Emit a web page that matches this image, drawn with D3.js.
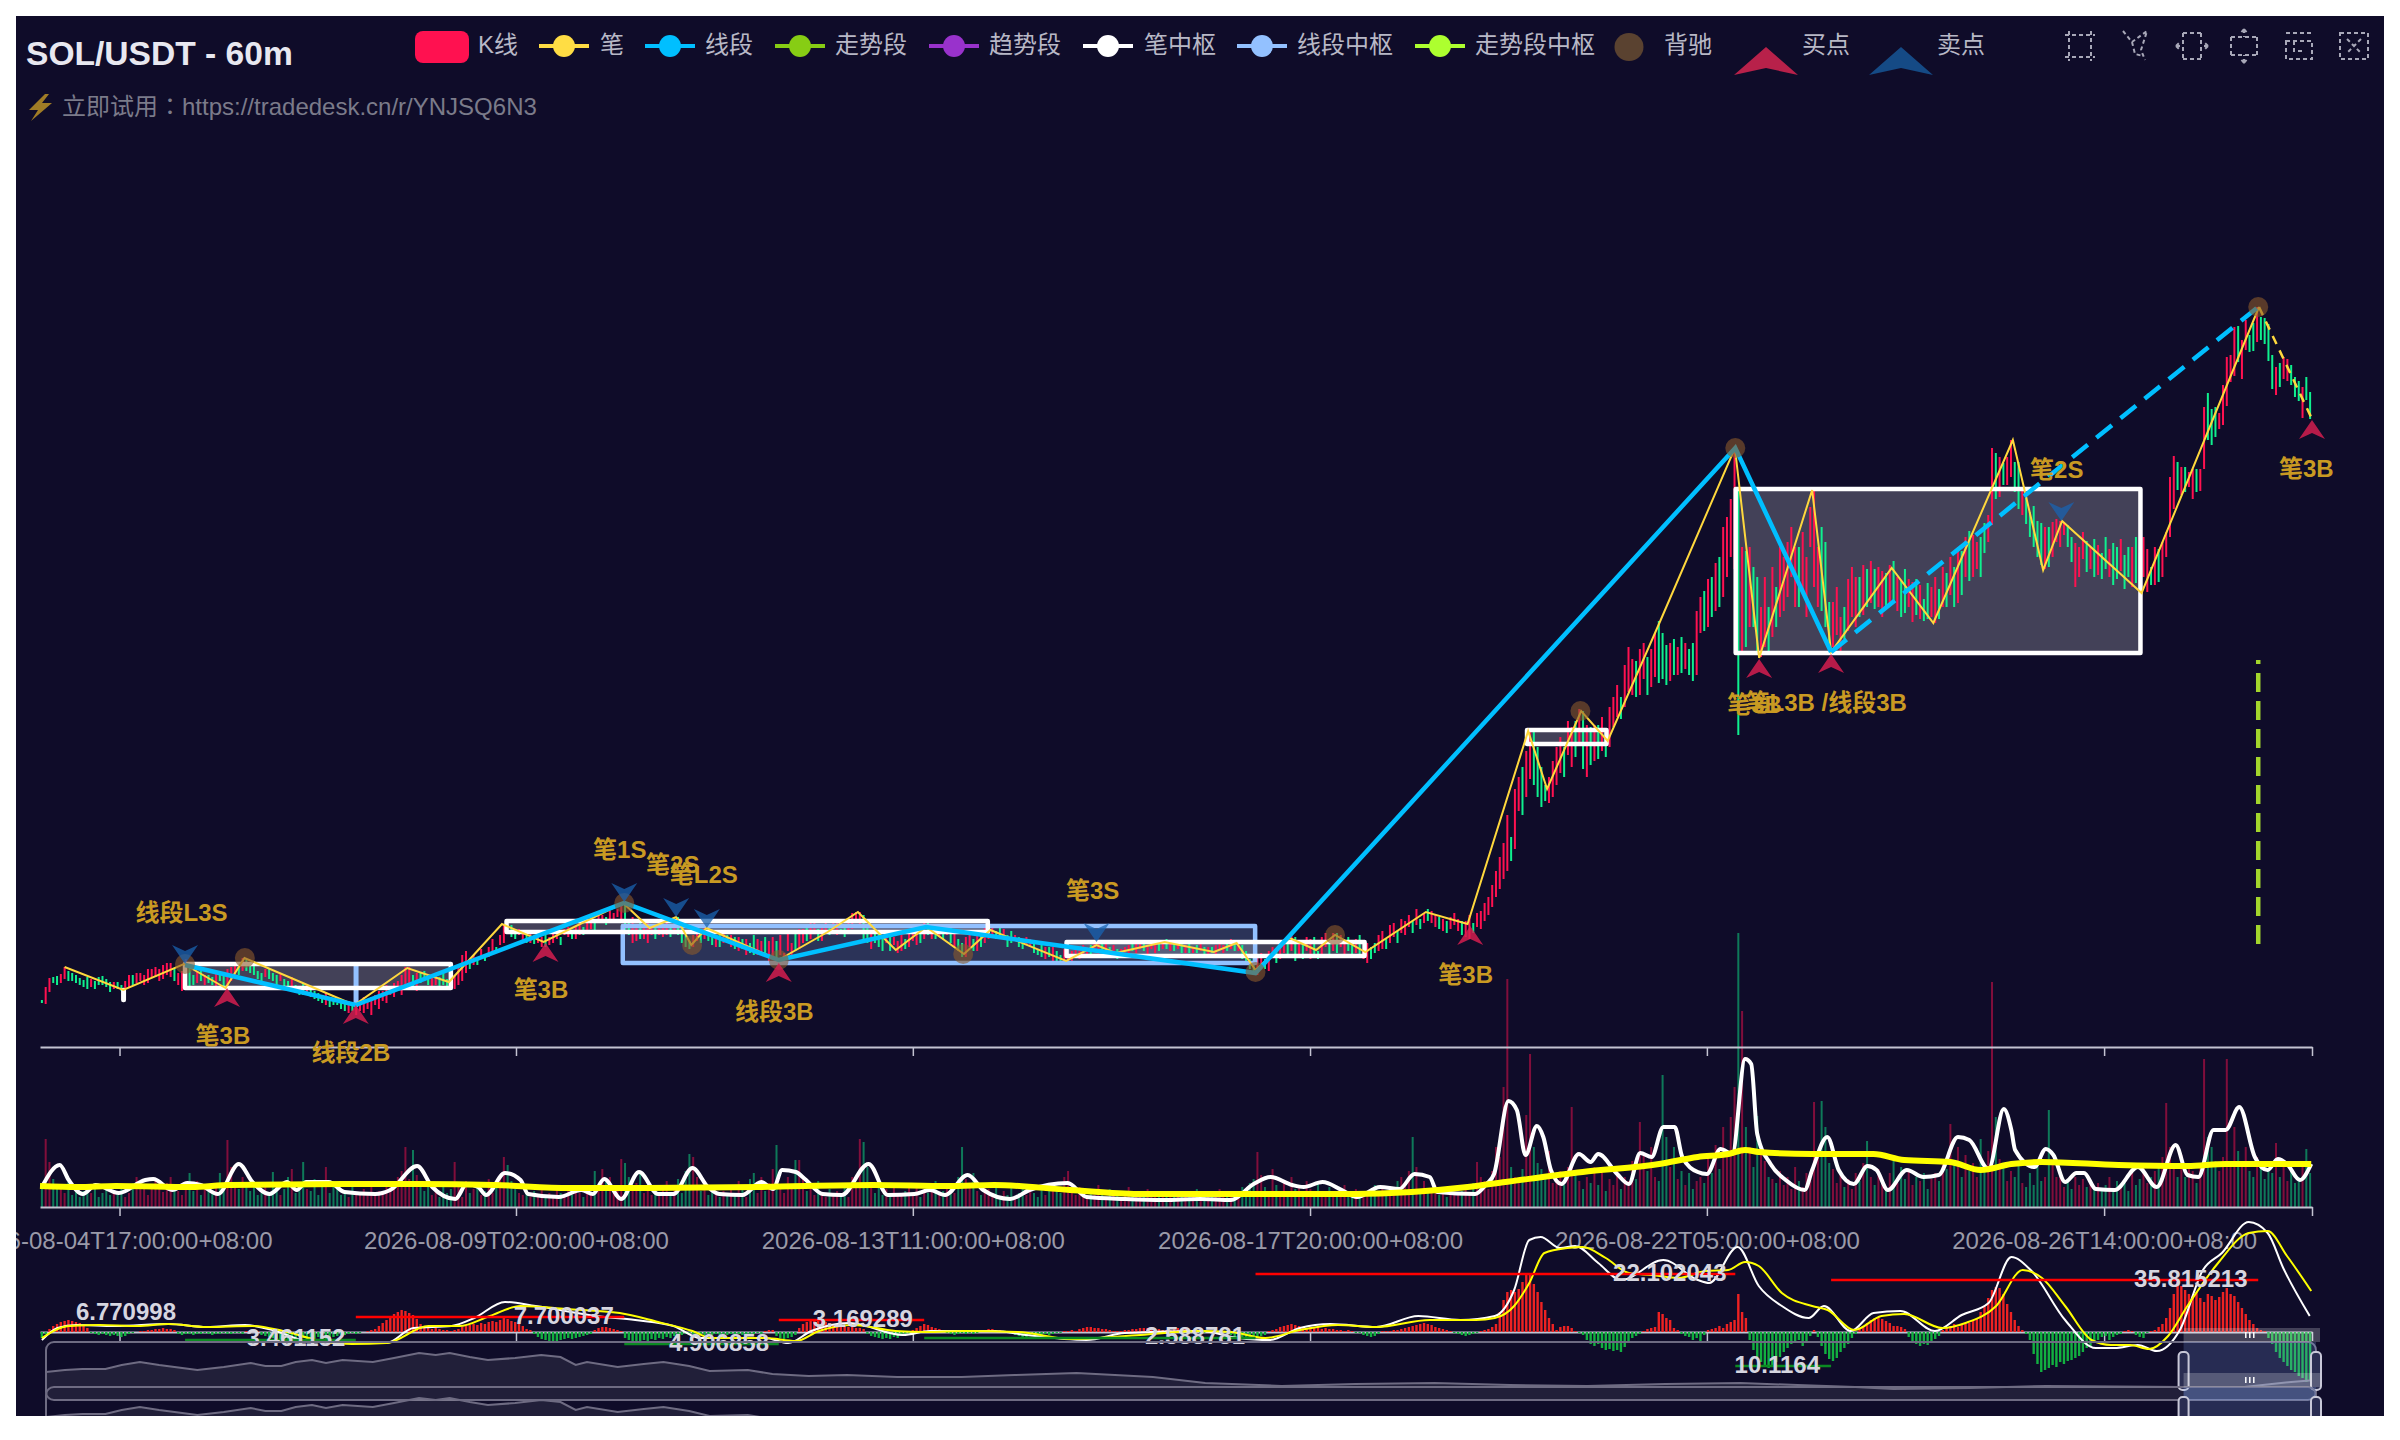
<!DOCTYPE html>
<html>
<head>
<meta charset="utf-8">
<script src="https://cdn.jsdelivr.net/npm/d3@7"></script>
<style>
  body { margin: 0; background: #fff; }
  text { font-family: "Liberation Sans", "Noto Sans CJK SC", sans-serif; }
</style>
</head>
<body>
<script>
// no price axis in the picture, so prices and volumes are in plain read-off units
// each candle is [open, close]
const klineData = [
[47,44],[43,60],[55,69],[70,64],[71,62],[64,73],[68,80],[76,66],[74,66],[72,64],[69,62],[67,60],[70,58],[60,68],[66,58],[70,62],[71,62],[68,60],[65,55],[58,65],
[65,58],[62,56],[57,66],[60,72],[72,62],[64,74],[66,74],[62,72],[64,78],[70,78],[70,80],[66,78],[68,82],[72,84],[70,84],[78,66],[62,74],[56,76],[64,88],[82,60],
[72,62],[64,76],[76,66],[62,72],[72,64],[70,62],[60,76],[76,66],[72,58],[60,78],[66,80],[70,84],[80,72],[76,89],[88,76],[84,74],[82,72],[76,68],[74,66],[70,78],
[78,68],[74,66],[72,60],[66,74],[68,58],[66,56],[60,70],[62,54],[58,52],[64,52],[54,62],[60,50],[56,48],[54,46],[52,44],[42,54],[48,40],[46,42],[44,42],[46,38],
[44,36],[34,46],[42,36],[32,48],[36,44],[34,50],[38,48],[32,50],[42,52],[38,56],[46,56],[44,62],[52,60],[50,64],[56,66],[52,72],[60,80],[62,80],[72,60],[56,74],
[74,64],[76,66],[72,62],[60,72],[62,72],[70,60],[74,62],[68,58],[70,58],[58,72],[62,80],[66,92],[74,96],[86,78],[82,92],[88,82],[88,98],[92,86],[90,100],[94,108],
[100,96],[102,112],[104,123],[122,114],[122,110],[118,108],[112,118],[106,114],[112,104],[104,114],[110,103],[104,112],[100,110],[112,100],[102,110],[104,116],[108,114],[110,102],[112,118],[110,120],
[116,108],[108,120],[112,124],[120,112],[116,126],[118,132],[128,116],[126,136],[124,132],[130,122],[128,136],[126,134],[130,138],[128,142],[144,115],[126,112],[104,130],[106,122],[128,108],[108,126],
[104,124],[112,122],[122,108],[112,120],[110,122],[112,124],[120,110],[114,128],[130,112],[118,104],[112,100],[106,98],[100,112],[106,118],[114,104],[108,122],[120,106],[116,102],[100,110],[112,100],
[104,114],[112,104],[100,112],[110,98],[96,110],[108,98],[92,108],[104,94],[112,92],[92,108],[94,106],[110,90],[84,106],[88,110],[106,88],[92,112],[84,94],[96,114],[92,104],[116,96],
[98,118],[104,118],[120,106],[108,124],[114,126],[118,106],[106,120],[114,126],[122,112],[116,128],[112,124],[118,114],[122,110],[114,126],[118,134],[124,135],[120,135],[132,108],[120,104],[98,116],
[116,104],[114,100],[112,96],[104,112],[110,96],[102,110],[94,106],[96,112],[108,98],[100,118],[106,116],[102,122],[114,104],[108,124],[126,112],[108,118],[122,108],[110,118],[118,108],[112,122],
[120,104],[100,114],[108,96],[104,90],[90,110],[100,114],[108,96],[96,116],[112,100],[104,120],[108,120],[110,122],[116,108],[122,108],[108,118],[112,100],[116,104],[106,112],[110,100],[108,98],
[102,110],[100,108],[106,94],[98,92],[102,90],[88,100],[100,90],[86,100],[96,84],[92,82],[84,98],[86,94],[84,96],[90,98],[88,100],[92,102],[90,100],[102,92],[96,104],[92,106],
[104,94],[96,104],[100,92],[94,102],[98,88],[90,98],[94,100],[92,102],[104,96],[94,104],[98,106],[106,96],[92,100],[98,106],[94,102],[104,96],[98,107],[108,98],[96,104],[106,96],
[98,106],[104,94],[94,102],[104,94],[94,100],[102,94],[96,104],[100,92],[92,100],[100,94],[92,102],[98,106],[94,102],[104,96],[98,108],[104,96],[96,106],[102,88],[96,84],[88,78],
[90,74],[72,90],[80,94],[88,78],[76,96],[90,100],[98,84],[88,106],[94,108],[104,90],[96,112],[110,86],[92,106],[104,88],[96,110],[88,108],[110,92],[96,88],[92,110],[100,114],
[108,92],[96,114],[114,94],[100,112],[92,106],[110,96],[106,90],[94,108],[112,90],[88,96],[84,104],[100,88],[104,94],[96,112],[98,116],[108,98],[104,122],[110,124],[116,104],[114,128],
[112,126],[120,132],[126,114],[122,138],[128,118],[124,134],[138,126],[124,136],[120,132],[130,118],[116,128],[126,114],[118,130],[122,134],[116,128],[126,112],[110,126],[108,132],[124,114],[120,134],
[118,136],[126,144],[132,150],[140,162],[150,176],[158,190],[168,204],[176,232],[210,186],[198,258],[236,270],[280,232],[250,296],[268,318],[316,262],[300,250],[280,240],[262,246],[244,270],[250,286],
[262,300],[274,310],[300,270],[292,326],[280,320],[326,290],[304,338],[336,278],[270,322],[320,282],[286,322],[322,288],[296,330],[314,290],[300,340],[320,350],[330,362],[350,328],[340,382],[355,400],
[352,388],[386,350],[352,398],[368,404],[390,352],[360,398],[370,414],[426,364],[414,368],[402,362],[366,404],[408,372],[372,400],[410,374],[378,404],[398,372],[404,366],[372,436],[414,450],[456,416],
[420,468],[470,430],[436,484],[490,440],[450,520],[470,530],[490,548],[478,600],[556,312],[392,500],[496,400],[420,500],[480,420],[470,392],[390,440],[400,470],[440,396],[410,480],[460,420],[430,500],
[436,490],[450,505],[470,520],[440,500],[500,440],[455,515],[430,490],[500,540],[460,558],[440,500],[520,436],[505,420],[445,395],[400,445],[412,460],[394,430],[440,408],[416,468],[430,480],[420,470],
[470,430],[432,482],[478,440],[444,486],[478,438],[440,480],[430,476],[474,440],[444,482],[486,446],[436,470],[466,430],[478,434],[440,468],[425,465],[468,432],[428,462],[448,426],[464,428],[430,460],
[424,470],[458,428],[440,480],[474,440],[452,490],[480,440],[444,500],[496,452],[470,510],[516,466],[470,512],[478,505],[510,470],[524,494],[505,532],[522,599],[594,548],[550,590],[584,562],[562,590],
[570,607],[585,555],[585,538],[532,558],[550,523],[535,510],[541,500],[526,490],[524,482],[478,520],[520,480],[490,525],[505,528],[500,526],[512,525],[522,500],[510,485],[460,504],[470,500],[488,515],
[506,475],[478,500],[508,470],[472,502],[494,468],[510,478],[470,498],[504,462],[500,468],[476,508],[492,458],[500,470],[460,500],[510,464],[494,456],[470,510],[455,498],[480,462],[462,500],[498,465],
[470,505],[490,515],[510,570],[538,591],[585,557],[552,580],[580,555],[560,575],[548,578],[578,555],[556,578],[578,640],[654,607],[638,602],[640,610],[618,634],[622,662],[641,690],[665,692],[671,720],
[721,685],[668,707],[697,727],[712,695],[724,696],[705,740],[730,707],[729,703],[723,686],[692,658],[652,680],[684,660],[668,690],[666,688],[682,662],[670,650],[666,646],[629,660],[670,647],[655,628]
];

const volumeData = [
18,68,45,28,22,18,14,25,12,18,10,16,22,14,18,10,14,20,12,16,
12,18,10,14,24,30,18,22,12,20,28,26,15,24,30,18,16,12,25,34,
16,26,12,20,18,14,24,34,22,67,40,22,18,30,24,16,26,12,14,20,
14,35,24,12,18,30,38,14,22,45,18,16,28,12,24,40,14,26,18,12,
16,10,22,14,12,18,14,24,12,16,14,20,24,18,30,36,60,28,57,32,
26,16,22,12,20,10,24,14,18,45,22,10,26,14,18,20,12,16,28,14,
24,30,50,42,26,18,14,12,22,10,16,12,18,10,14,12,20,14,10,16,
12,18,14,10,22,14,36,20,38,26,30,18,16,48,44,30,18,24,36,14,
20,12,16,14,18,26,12,22,28,14,36,53,50,30,16,22,12,18,14,10,
16,12,20,14,26,18,10,28,34,14,30,16,24,38,62,22,14,30,20,47,
47,28,16,20,12,26,14,10,18,12,16,12,20,10,30,24,68,65,40,22,
14,26,12,18,10,22,14,12,16,20,12,24,10,18,14,22,26,12,16,24,
18,14,30,60,28,22,34,16,12,24,18,14,22,10,16,12,20,10,14,18,
12,22,14,10,18,12,16,24,20,14,30,36,18,12,20,14,10,16,12,22,
14,10,18,12,16,10,14,20,12,10,16,12,18,10,14,12,16,10,14,12,
10,16,12,10,14,18,10,12,16,14,10,18,12,14,10,12,16,20,14,24,
28,55,32,20,14,38,22,16,24,12,30,18,22,14,26,18,12,24,16,14,
20,12,16,10,22,14,12,18,10,14,16,12,22,14,18,12,20,16,26,30,
24,36,70,40,18,26,16,14,22,12,16,10,18,14,12,16,20,14,24,45,
30,26,18,36,60,50,120,228,40,30,26,38,92,153,60,44,38,28,56,24,
30,36,22,40,100,34,26,18,30,24,40,22,34,16,28,22,40,18,30,26,
46,28,85,52,36,60,30,26,132,70,40,60,28,36,22,34,18,26,30,24,
50,34,62,38,80,56,90,120,274,196,80,60,40,91,60,46,30,28,24,36,
22,30,18,40,26,20,34,28,105,50,106,80,44,38,24,32,20,28,18,34,
26,44,66,30,22,38,28,20,34,46,24,40,28,36,22,30,26,34,18,28,
34,26,46,38,83,42,60,30,52,36,44,30,68,40,56,225,90,48,42,26,
36,30,44,24,20,34,22,40,26,30,97,44,30,36,20,26,18,30,22,28,
20,26,18,24,16,22,30,18,26,20,24,16,34,22,28,40,24,30,36,44,
50,104,60,40,30,52,30,44,36,24,40,148,70,60,46,36,50,148,40,80,
56,44,60,36,30,50,40,28,36,34,64,30,44,26,36,24,30,40,58,34
];

const macdHist = [
-6,-2,3,6,8,10,11,12,11,10,9,7,4,-1,-2,-3,-2,-3,-4,-3,
-4,-5,-4,-2,-1,0,1,1,2,2,3,3,4,3,3,2,-2,-3,-2,-2,
-3,-2,-2,-1,-2,-3,-2,-2,-1,-2,-2,-1,-1,-2,1,2,2,1,-3,-4,
-5,-6,-7,-8,-7,-8,-7,-6,-5,-6,-7,-8,-6,-5,-7,-8,-6,-5,-4,-3,
-3,-2,-1,-2,-1,0,1,2,3,6,9,12,15,18,20,22,21,19,17,13,
8,5,4,3,4,3,2,2,1,2,3,5,6,7,8,7,9,8,10,11,
10,12,14,13,11,10,8,6,3,2,-2,-5,-7,-8,-9,-10,-9,-8,-7,-6,
-7,-6,-5,-4,-3,-2,2,4,5,5,4,3,2,1,-6,-8,-9,-10,-9,-8,
-9,-7,-8,-6,-7,-5,-6,-4,-5,-3,-2,-1,-2,-3,-2,-3,-2,-3,-2,-3,
-2,-3,-2,-3,-2,-3,-2,-3,-2,-1,-2,1,2,2,-4,-6,-7,-6,-5,-3,
4,8,10,12,13,12,11,10,9,8,7,6,6,5,5,4,4,3,-2,-4,
-5,-6,-7,-6,-7,-5,-6,-4,-3,-2,2,4,6,8,7,5,4,3,2,-1,
-2,-3,-2,-1,-2,-1,-2,-1,1,2,3,3,2,2,1,-1,-2,-3,-4,-5,
-5,-4,-3,-4,-3,-2,-3,-2,-1,-1,1,1,2,1,3,4,5,5,4,4,
3,3,2,1,1,1,2,2,3,3,4,4,4,3,3,3,2,2,2,3,
4,3,3,2,2,1,-1,-1,1,1,1,1,1,-1,-3,-5,-6,-7,-8,-8,
-7,-6,-4,-3,1,2,3,5,6,7,8,7,6,5,4,5,4,5,3,4,
3,3,2,2,1,2,1,-1,-1,-3,-4,-5,-4,-2,1,1,1,2,2,3,
4,5,6,7,8,9,8,7,5,4,3,2,1,-1,-2,-3,-4,-3,-2,-1,
1,2,3,5,8,20,32,40,42,40,43,50,59,58,48,40,30,22,14,8,
2,5,6,6,4,1,-1,-3,-8,-12,-14,-12,-16,-18,-17,-19,-18,-20,-15,-10,
-6,-4,-2,1,3,4,5,20,18,14,12,4,2,-2,-4,-5,-8,-6,-10,-3,
2,3,4,6,4,8,10,12,38,20,14,-8,-18,-25,-30,-34,-36,-33,-30,-25,
-20,-16,-12,-10,-8,-14,-9,-4,2,-5,-14,-22,-27,-29,-26,-20,-16,-12,-6,-2,
3,6,9,12,14,15,13,11,9,6,6,5,3,-5,-9,-12,-14,-12,-13,-10,
-7,-4,2,4,6,8,5,7,8,9,12,14,20,26,34,42,45,44,38,28,
20,12,6,2,-2,-8,-22,-32,-40,-38,-36,-33,-35,-30,-32,-29,-28,-26,-24,-20,
-16,-14,-10,-8,-5,-4,-8,-5,-3,-2,1,2,1,-3,-5,-6,-1,1,2,5,
8,14,24,38,50,46,42,38,36,40,34,30,38,36,32,35,40,44,38,36,
30,24,18,12,8,4,2,1,-6,-12,-20,-26,-30,-34,-38,-40,-44,-46,-50,-48
];

const biPoints = [[6.5,80],[22,57],[38,83],[49,59],[54,89],[83,42],[97,79],[108,65],[122,123],[133,105],[154,144],[161,119],[168,130],[172,102],[176,119],[195,87],[208,115],[216,135],[222,112],[226,97],[234,120],[244,93],[251,117],[271,86],[279,102],[284,94],[297,105],[310,95],[316,104],[321,77],[330,109],[337,97],[342,112],[350,95],[366,135],[377,123],[393,316],[398,258],[407,336],[414,306],[428,427],[447.6,599],[454,389],[468,557],[473,395],[489,479],[500,424],[521,607],[529,477],[534,526],[555,454],[586,740]];
const biDashed = [[586,740],[600,628]];
const segPoints = [[38.3,82],[83.4,42],[154.3,144],[195.1,87],[234,120],[321,74],[447.7,599],[473,395]];
const segDashed = [[473,395],[585.8,740]];
const trendDashed = [[585.8,103],[585.8,387]];

// zhongshu boxes [from, to, low, high]
const biBoxes = [[22,22,47,57],[38.3,108.5,59,83],[123.2,250.3,115,126],[271.1,349.8,91,105],[392.7,413.7,303,317],[447.8,554.7,394,558]];
const segBoxes = [[83.4,83.4,42,82],[153.9,320.9,84,121]];

const beichiPoints = [[38.3,83],[54.1,89],[154.3,144],[172.2,102],[195.1,87],[243.8,93],[321,75],[342,112],[406.8,336],[447.7,599],[585.8,740]];
const buyPoints = [[49.4,59],[83.4,42],[133.5,104],[195.1,84],[377.7,121],[454,388],[473,393],[600,627]];
const sellPoints = [[38.3,83],[154.3,145],[168,130],[176.1,119],[279,105],[533.8,526]];

const signalText = ["线段L3S","笔3B","线段2B","笔3B","笔1S","笔2S","笔L2S","线段3B","笔3S","笔3B","笔3B","笔L3B /线段3B","笔2S","笔3B"];
const signalPos = [[37.4,134],[48.3,11],[82.1,-6],[132.3,57],[153.1,197],[167.1,182],[175.3,172],[193.9,35],[278,156],[376.5,72],[452.8,342],[471.7,344],[532.6,577],[598.5,578]];

const volFast = [[0.5,20],[5.2,42],[7.6,27],[11.3,13],[14.7,22],[20.8,14],[27.8,27],[29.9,28],[34.9,17],[38.9,24],[42.4,22],[47,13],[52.5,43],[56.1,25],[60.6,13],[65.2,25],[67.8,17],[70.3,25],[76.3,25],[80.4,15],[88.5,13],[92.5,17],[99.6,41],[103.6,20],[109.7,8],[112.7,23],[115.7,20],[117.8,12],[122.8,34],[126.9,27],[128.9,13],[137,10],[143,17],[146,13],[149,28],[153.5,8],[158.2,35],[163.2,13],[167.3,13],[172.3,39],[176.4,20],[179.4,13],[185.5,12],[190.5,25],[193.6,18],[196,37],[199.6,35],[202,28],[206.7,13],[211.7,12],[218.8,43],[223.9,12],[230.9,13],[235,17],[239,12],[245,32],[249.1,17],[256.2,8],[261.3,17],[271.4,24],[276.4,10],[286.5,8],[296.6,7],[306.4,8],[314.5,7],[320.5,23],[325,30],[330.7,22],[333.7,20],[338.7,25],[343.8,17],[347.8,10],[353.9,20],[359,18],[363,33],[367,30],[369,15],[379,13],[382,23],[384,33],[387.8,106],[390,97],[392.3,52],[395.3,81],[397,70],[399,37],[401.8,23],[406.4,53],[409.5,45],[411.5,53],[416.5,33],[419.6,23],[422.6,54],[425.6,50],[428.7,80],[431.7,80],[433.7,50],[437.8,35],[440.2,33],[443.8,58],[446.9,53],[450.3,148],[451.9,143],[453.5,73],[457,43],[461,27],[466,17],[468,37],[472,70],[475,37],[479,23],[482.6,41],[485,37],[488,17],[493,37],[497.4,30],[501.4,32],[506.5,70],[509.5,67],[514.6,38],[518.6,98],[520.6,77],[521.6,57],[526.7,40],[529.7,58],[531.7,52],[534.8,25],[537.8,34],[539.8,34],[542.9,18],[547.9,17],[554,40],[559,20],[564,62],[567.1,32],[570,30],[574,77],[577.2,77],[580.8,100],[584.9,50],[588.3,37],[591,48],[593.4,43],[596.8,27],[599.8,43]];
const volSlow = [[0,21],[10,20],[20,21],[40,20],[50,22],[80,23],[100,23],[120,22],[140,19],[160,19],[190,20],[220,22],[240,21],[252,22],[272,17],[290,13],[306,13],[347,13],[377,20],[387,25],[407.4,35],[427.6,43],[437.8,50],[445.9,53],[450.3,57],[453.9,55],[468,53],[484.2,53],[492.3,47],[504.5,45],[512.5,37],[520.6,43],[528.7,45],[548.9,42],[567.1,41],[577.2,43],[599.8,43]];

const difLine = [[0.5,-8],[4.6,4],[9.6,7],[19.7,6],[33.9,8],[44,5],[54.1,7],[62.2,1],[70.3,-9],[80.4,-11],[91.5,-11],[98.6,4],[108.7,6],[114.7,14],[122.8,30],[130.9,26],[147,16],[157.2,12],[167.3,6],[174.4,-6],[191.5,-6],[197.6,-11],[203.7,1],[213.8,9],[227.9,-3],[235,1],[252.2,1],[260.3,-3],[276.4,-8],[286.5,-1],[306.4,1],[316.5,-6],[324.6,-8],[332.7,4],[340.8,8],[352.9,5],[364,16],[375.1,12],[384.2,16],[389.3,42],[393.3,92],[396.3,95],[401.4,84],[405.4,86],[411.5,69],[417.6,52],[428.7,72],[437.8,52],[440.8,49],[448.3,85],[453.9,46],[460,26],[467.1,14],[471.1,26],[478.2,1],[484.2,19],[491.3,21],[500.4,1],[507.5,17],[514.6,29],[520.6,75],[525.7,62],[534.8,12],[542.9,-16],[547.9,-16],[554,-13],[559,-19],[565.1,2],[571.2,62],[576.2,79],[583.3,110],[588.3,99],[592.4,64],[599.4,16]];
const deaLine = [[0.5,-6],[7.6,6],[15.7,7],[25.8,6],[33.9,8],[44,5],[56.1,6],[64.2,1],[74.3,-9],[82.4,-12],[91.5,-11],[102.6,6],[110.7,6],[118.8,16],[126.9,26],[139,23],[153.1,19],[163.2,10],[172.3,1],[177.4,-6],[191.5,-6],[199.6,-9],[205.7,1],[214.8,7],[225.9,1],[234,0],[244.1,1],[258.2,0],[272.4,-7],[290.6,-3],[306.4,1],[314.5,0],[323.6,-6],[332.7,2],[342.8,7],[352.9,5],[367,12],[379.2,12],[384.2,14],[389.3,26],[393.3,49],[397.3,79],[403.4,84],[407.4,85],[413.5,74],[419.6,59],[425.6,57],[432.7,54],[439.8,61],[445.8,62],[450.3,70],[453.9,66],[460,39],[468,26],[472.1,22],[479.2,2],[486.3,16],[492.3,18],[502.4,4],[508.5,9],[516.6,26],[523.6,62],[528.7,54],[534.8,26],[541.8,-8],[546.9,-13],[552,-13],[557,-17],[562,-4],[567.1,26],[575.2,69],[583.3,99],[588.3,101],[593.4,76],[599.8,41]];

// macd mark lines [from, to, level] and their labels [text, bar position, level]
const macdMarkRed = [[83.4,154.3,15],[195.1,233.5,12],[321,447.7,58],[473,585.8,52]];
const macdMarkGreen = [[38.3,83.4,-8],[154.3,195.1,-12],[233.5,321,-6],[447.7,473,-34]];
const macdLabelText = ["6.770998","3.461152","7.700037","4.906858","3.169289","2.588781","22.102043","10.1164","35.815213"];
const macdLabelPos = [[22.7,20],[67.6,-6],[138.3,16],[179.3,-11],[217.3,13],[305,-4],[430.4,59],[458.8,-33],[568,53]];

const shadowLine = [[0,28],[5,30],[9.6,31],[15.7,31],[20,35],[24.8,38],[29.9,35],[36,32],[40,30],[47,33],[54.1,37],[58,34],[62.2,34],[66,38],[70.3,40],[74,37],[78.4,40],[86.4,38],[92,42],[98.6,47],[103,45],[106.7,47],[112,43],[116.8,40],[124,42],[130.9,45],[136,43],[140,35],[143,38],[151.1,33],[158,36],[163.2,38],[170,34],[175.4,29],[185.5,30],[192,26],[201.6,24],[211.7,25],[225,23],[242,23],[256,25],[272.4,27],[292.6,23],[306.4,17],[326.6,14],[346,16],[367,17],[387,15],[407.4,14],[428,16],[447.9,17],[463,15],[478.2,13],[488.3,11],[508.5,12],[528.7,14],[565,13],[581,13],[593.4,18],[600,20]];

const tickBars = [21,125.7,230.5,335.4,440.2,545.1,600];
const tickLabels = ["2026-08-04T17:00:00+08:00","2026-08-09T02:00:00+08:00","2026-08-13T11:00:00+08:00","2026-08-17T20:00:00+08:00","2026-08-22T05:00:00+08:00","2026-08-26T14:00:00+08:00",""];

const legendText = ["K线","笔","线段","走势段","趋势段","笔中枢","线段中枢","走势段中枢","背驰","买点","卖点"];
const legendColor = ["#ff1150","#ffdd44","#00bfff","#87cd14","#9932cc","#ffffff","#93c1ff","#adff2f","#5a4230","#b8214a","#154a85"];
const legendMarkX = [442,564,670,800,954,1108,1262,1440,1629,1766,1901];
const legendTextX = [478,600,705,835,989,1144,1297,1475,1664,1802,1937];

const W = 2400, H = 1440;
const red = "#ff1150", green = "#0ff08e";

const svg = d3.select("body").append("svg").attr("width", W).attr("height", H);
svg.append("clipPath").attr("id", "page").append("rect").attr("x", 16).attr("y", 16).attr("width", 2368).attr("height", 1400);
svg.append("rect").attr("x", 16).attr("y", 16).attr("width", 2368).attr("height", 1400).attr("fill", "#0f0c29");
const root = svg.append("g").attr("clip-path", "url(#page)");

// scales
const x = d3.scaleLinear().domain([0, 600]).range([40, 2312]);
const y = d3.scaleLinear().domain([0, 1000]).range([1047, 47]);
const yVol = d3.scaleLinear().domain([0, 300]).range([1207, 907]);
const yMacd = d3.scaleLinear().domain([-80, 110]).range([1412, 1222]);
const isUp = (d) => d[1] >= d[0];
const bar = (i) => x(i + 0.5);

// volume
root.append("g").selectAll("rect").data(volumeData).enter().append("rect")
  .attr("x", (d, i) => bar(i) - 1)
  .attr("width", 2)
  .attr("y", (d) => yVol(d))
  .attr("height", (d) => yVol(0) - yVol(d))
  .attr("fill", (d, i) => (isUp(klineData[i]) ? red : green))
  .attr("opacity", 0.48);

const volPath = d3.line().x((d) => x(d[0])).y((d) => yVol(d[1])).curve(d3.curveMonotoneX);
root.append("path").attr("d", volPath(volFast)).attr("fill", "none").attr("stroke", "#fff").attr("stroke-width", 4);
root.append("path").attr("d", volPath(volSlow)).attr("fill", "none").attr("stroke", "#ffff00").attr("stroke-width", 6);

// axes
const xAxis = (showLabels) =>
  d3.axisBottom(x).tickValues(tickBars).tickSizeInner(9).tickSizeOuter(0)
    .tickFormat((d, i) => (showLabels ? tickLabels[i] : ""));
[[1047, false], [1207, true], [1332, false]].forEach(([py, showLabels]) => {
  const g = root.append("g").attr("transform", `translate(0,${py})`).call(xAxis(showLabels));
  g.select(".domain").attr("stroke", "#c3c3d2").attr("stroke-width", 2);
  g.selectAll(".tick line").attr("stroke", "#c3c3d2").attr("stroke-width", 1.5);
  g.selectAll(".tick text").attr("fill", "#9a9aa8").attr("font-size", 24).attr("y", 34).attr("dy", "0.32em");
});

// zhongshu fills go under the candles
// a box with no width still has to show as a line, hence the small minimum
const boxWidth = (d) => Math.max(x(d[1]) - x(d[0]), 0.5);
const boxes = root.append("g");
const boxFill = (list, color) =>
  boxes.append("g").selectAll("rect").data(list).enter().append("rect")
    .attr("x", (d) => x(d[0])).attr("width", boxWidth)
    .attr("y", (d) => y(d[3])).attr("height", (d) => y(d[2]) - y(d[3]))
    .attr("fill", color).attr("fill-opacity", 0.22);
boxFill(segBoxes, "#93c1ff");
boxFill(biBoxes, "#ffffff");

// candles
root.append("g").selectAll("rect").data(klineData).enter().append("rect")
  .attr("x", (d, i) => bar(i) - 1)
  .attr("width", 2)
  .attr("y", (d) => y(Math.max(d[0], d[1])))
  .attr("height", (d) => Math.abs(y(d[0]) - y(d[1])))
  .attr("fill", (d) => (isUp(d) ? red : green));

const boxLine = (list, color) =>
  root.append("g").selectAll("rect").data(list).enter().append("rect")
    .attr("x", (d) => x(d[0])).attr("width", boxWidth)
    .attr("y", (d) => y(d[3])).attr("height", (d) => y(d[2]) - y(d[3]))
    .attr("fill", "none").attr("stroke", color).attr("stroke-width", 4.5).attr("stroke-linejoin", "round");
boxLine(segBoxes, "#93c1ff");
boxLine(biBoxes, "#ffffff");

// bi, segment, trend
const pricePath = d3.line().x((d) => x(d[0])).y((d) => y(d[1]));
const drawLine = (pts, color, width, dash) =>
  root.append("path").attr("d", pricePath(pts)).attr("fill", "none")
    .attr("stroke", color).attr("stroke-width", width).attr("stroke-dasharray", dash || null);
drawLine(biPoints, "#ffd83d", 2);
drawLine(biDashed, "#ffd83d", 2.5, "9 7");
drawLine(segPoints, "#00bfff", 4.5);
drawLine(segDashed, "#00bfff", 4.5, "20 11");
drawLine(trendDashed, "#a4d62c", 4.5, "19 9");

// marks
root.append("g").selectAll("circle").data(beichiPoints).enter().append("circle")
  .attr("cx", (d) => x(d[0])).attr("cy", (d) => y(d[1])).attr("r", 10)
  .attr("fill", "#8b5a2b").attr("fill-opacity", 0.6);
const arrowPath = (s) => `M0,0L${13 * s},19L0,13L${-13 * s},19Z`;
root.append("g").selectAll("path").data(buyPoints).enter().append("path")
  .attr("d", arrowPath(1)).attr("transform", (d) => `translate(${x(d[0])},${y(d[1])})`)
  .attr("fill", "#dc1f50").attr("fill-opacity", 0.82);
root.append("g").selectAll("path").data(sellPoints).enter().append("path")
  .attr("d", arrowPath(1)).attr("transform", (d) => `translate(${x(d[0])},${y(d[1])}) scale(1,-1)`)
  .attr("fill", "#1a63b0").attr("fill-opacity", 0.75);
root.append("g").selectAll("text").data(signalText).enter().append("text")
  .text((d) => d)
  .attr("x", (d, i) => x(signalPos[i][0])).attr("y", (d, i) => y(signalPos[i][1]))
  .attr("text-anchor", "middle").attr("dy", "0.35em")
  .attr("font-size", 24).attr("font-weight", "bold").attr("fill", "#c99a22");

// macd
root.append("g").selectAll("rect").data(macdHist).enter().append("rect")
  .attr("x", (d, i) => bar(i) - 1.2)
  .attr("width", 2.4)
  .attr("y", (d) => yMacd(Math.max(d, 0)))
  .attr("height", (d) => Math.abs(yMacd(d) - yMacd(0)))
  .attr("fill", (d) => (d >= 0 ? "#ee2222" : "#12b040"));
const macdPath = d3.line().x((d) => x(d[0])).y((d) => yMacd(d[1])).curve(d3.curveMonotoneX);
root.append("path").attr("d", macdPath(difLine)).attr("fill", "none").attr("stroke", "#fff").attr("stroke-width", 2);
root.append("path").attr("d", macdPath(deaLine)).attr("fill", "none").attr("stroke", "#ffff00").attr("stroke-width", 2);
const markLines = (list, color) =>
  root.append("g").selectAll("line").data(list).enter().append("line")
    .attr("x1", (d) => x(d[0])).attr("x2", (d) => x(d[1]))
    .attr("y1", (d) => yMacd(d[2])).attr("y2", (d) => yMacd(d[2]))
    .attr("stroke", color).attr("stroke-width", 2.5);
markLines(macdMarkRed, "#ff0000");
markLines(macdMarkGreen, "#0b8a22");
root.append("g").selectAll("text").data(macdLabelText).enter().append("text")
  .text((d) => d)
  .attr("x", (d, i) => x(macdLabelPos[i][0])).attr("y", (d, i) => yMacd(macdLabelPos[i][1]))
  .attr("text-anchor", "middle").attr("dy", "0.35em")
  .attr("font-size", 24).attr("font-weight", "bold").attr("fill", "#d6d6e0");

// two data zoom sliders, the second runs off the bottom of the page
const sx = d3.scaleLinear().domain([0, 600]).range([46, 2316]);
[0, 45].forEach((shift) => {
  const top = 1342 + shift, base = 1400 + shift;
  const sy = d3.scaleLinear().domain([0, 48]).range([base, 1352 + shift]);
  const g = root.append("g");
  g.append("path")
    .attr("d", d3.area().x((d) => sx(d[0])).y0(base).y1((d) => sy(d[1]))(shadowLine))
    .attr("fill", "#ffffff").attr("fill-opacity", 0.08);
  g.append("path")
    .attr("d", d3.line().x((d) => sx(d[0])).y((d) => sy(d[1]))(shadowLine))
    .attr("fill", "none").attr("stroke", "#6e6b82").attr("stroke-width", 2);
  g.append("rect").attr("x", sx(0)).attr("y", top).attr("width", sx(600) - sx(0)).attr("height", base - top)
    .attr("rx", 8).attr("fill", "none").attr("stroke", "#6e6b82").attr("stroke-width", 2);
  // selected window
  g.append("rect").attr("x", sx(565)).attr("y", top).attr("width", sx(600) - sx(565)).attr("height", base - top)
    .attr("fill", "#87afff").attr("fill-opacity", 0.2);
  g.append("rect").attr("x", sx(565)).attr("y", top - 14).attr("width", sx(600) - sx(565) + 4).attr("height", 14)
    .attr("fill", "#ffffff").attr("fill-opacity", 0.22);
  [-4, 0, 4].forEach((dx) => {
    g.append("line").attr("x1", sx(582.5) + dx).attr("x2", sx(582.5) + dx)
      .attr("y1", top - 10).attr("y2", top - 4).attr("stroke", "#fff").attr("stroke-width", 1.5);
  });
  [565, 600].forEach((b) => {
    g.append("rect").attr("x", sx(b) - 5).attr("y", 1352 + shift).attr("width", 10).attr("height", 38)
      .attr("rx", 4).attr("fill", "#2a2d52").attr("stroke", "#c8c8d8").attr("stroke-width", 2);
  });
});

// title block
root.append("text").text("SOL/USDT - 60m").attr("x", 26).attr("y", 53).attr("dy", "0.35em")
  .attr("font-size", 33.6).attr("font-weight", "bold").attr("fill", "#e8e8f0");
root.append("path").attr("d", "M45,94L29,110L38,110L31,121L52,103L42,103L49,94Z").attr("fill", "#a07c26");
root.append("text").text("立即试用：https://tradedesk.cn/r/YNJSQ6N3").attr("x", 62).attr("y", 107).attr("dy", "0.35em")
  .attr("font-size", 24).attr("fill", "#7b7b8a")
  .style("font-family", '"Liberation Sans", "Noto Sans CJK TC", sans-serif');

// legend
const legend = root.append("g");
legendText.forEach((t, i) => {
  const mx = legendMarkX[i], c = legendColor[i];
  if (i === 0) {
    legend.append("rect").attr("x", mx - 27).attr("y", 31).attr("width", 54).attr("height", 32).attr("rx", 8).attr("fill", c);
  } else if (i < 8) {
    legend.append("line").attr("x1", mx - 25).attr("x2", mx + 25).attr("y1", 46).attr("y2", 46).attr("stroke", c).attr("stroke-width", 4);
    legend.append("circle").attr("cx", mx).attr("cy", 46).attr("r", 11).attr("fill", c);
  } else if (i === 8) {
    legend.append("ellipse").attr("cx", mx).attr("cy", 47).attr("rx", 14.5).attr("ry", 14).attr("fill", c);
  } else {
    legend.append("path").attr("d", "M0,-14L32,14L0,7L-32,14Z").attr("transform", `translate(${mx},61)`).attr("fill", c);
  }
  legend.append("text").text(t).attr("x", legendTextX[i]).attr("y", 45).attr("dy", "0.35em")
    .attr("font-size", 24).attr("fill", "#b8b8c6");
});

// toolbox icons, dashed outlines
const toolX = [2080, 2135, 2192, 2244, 2299, 2354];
const toolIcons = [
  "M-15,-11H15M-15,11H15M-11,-15V15M11,-15V15",
  "M-12,-15L-3,-4L12,-15L6,4L10,14M-3,-4L0,8L8,10",
  "M-9,-13H9M-9,13H9M-9,-13V13M9,-13V13M-16,0H-9M-16,0L-12,-4M-16,0L-12,4M16,0H9M16,0L12,-4M16,0L12,4",
  "M-13,-9V9M13,-9V9M-13,-9H13M-13,9H13M0,-17V-9M0,-17L-4,-12M0,-17L4,-12M0,17V9M0,17L-4,12M0,17L4,12",
  "M-13,-13H13M-13,-5V13H13V-5ZM-5,-5V5H5",
  "M-14,-13H14V13H-14ZM-7,-7L7,7M7,-7L-7,7"
];
root.append("g").selectAll("path").data(toolIcons).enter().append("path")
  .attr("d", (d) => d)
  .attr("transform", (d, i) => `translate(${toolX[i]},46)`)
  .attr("fill", "none").attr("stroke", "#a8a8b8").attr("stroke-width", 2).attr("stroke-dasharray", "4 3");
</script>
</body>
</html>
